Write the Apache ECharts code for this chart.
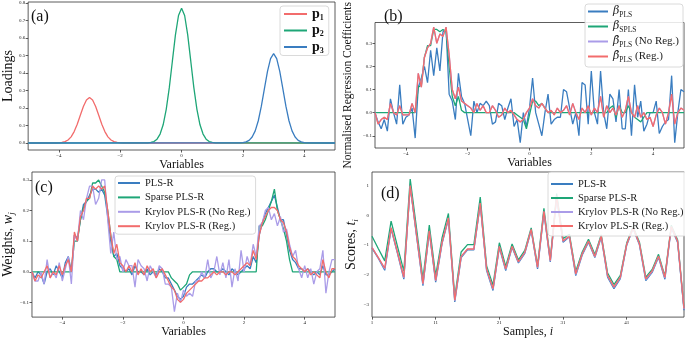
<!DOCTYPE html>
<html>
<head>
<meta charset="utf-8">
<script src="https://cdn.jsdelivr.net/npm/echarts@6/dist/echarts.min.js"></script>
<style>
  html, body { margin: 0; padding: 0; background: #fff; }
  #chart { width: 685px; height: 339px; }
</style>
</head>
<body>
<div id="chart"></div>
<script>
// ---- data ----
// (a) loadings
const p1X = [-5, -4.1, -4.0, -3.9, -3.8, -3.7, -3.6, -3.5, -3.4, -3.3, -3.2, -3.1, -3.0, -2.9, -2.8, -2.7, -2.6, -2.5, -2.4, -2.3, -2.2, -2.1, -2.0, -1.9, 5];
const p1Y = [0, 0, 0.001, 0.003, 0.008, 0.017, 0.035, 0.065, 0.107, 0.158, 0.208, 0.246, 0.26, 0.246, 0.208, 0.158, 0.107, 0.065, 0.035, 0.017, 0.008, 0.003, 0.001, 0, 0];
const p2X = [-5, -1.1, -1.0, -0.9, -0.8, -0.7, -0.6, -0.5, -0.4, -0.3, -0.2, -0.1, 0, 0.1, 0.2, 0.3, 0.4, 0.5, 0.6, 0.7, 0.8, 0.9, 1.0, 1.1, 5];
const p2Y = [0, 0.001, 0.003, 0.008, 0.022, 0.051, 0.104, 0.192, 0.316, 0.467, 0.617, 0.728, 0.77, 0.728, 0.617, 0.467, 0.316, 0.192, 0.104, 0.051, 0.022, 0.008, 0.003, 0.001, 0];
const p3X = [-5, 1.9, 2.0, 2.1, 2.2, 2.3, 2.4, 2.5, 2.6, 2.7, 2.8, 2.9, 3.0, 3.1, 3.2, 3.3, 3.4, 3.5, 3.6, 3.7, 3.8, 3.9, 4.0, 4.1, 5];
const p3Y = [0, 0.001, 0.002, 0.006, 0.015, 0.034, 0.069, 0.127, 0.21, 0.31, 0.409, 0.482, 0.51, 0.482, 0.409, 0.31, 0.21, 0.127, 0.069, 0.034, 0.015, 0.006, 0.002, 0.001, 0];

// variable positions for (b) and (c)
const variables = [
  -5.0, -4.9, -4.8, -4.7, -4.6, -4.5, -4.4, -4.3, -4.2, -4.1,
  -4.0, -3.9, -3.8, -3.7, -3.6, -3.5, -3.4, -3.3, -3.2, -3.1,
  -3.0, -2.9, -2.8, -2.7, -2.6, -2.5, -2.4, -2.3, -2.2, -2.1,
  -2.0, -1.9, -1.8, -1.7, -1.6, -1.5, -1.4, -1.3, -1.2, -1.1,
  -1.0, -0.9, -0.8, -0.7, -0.6, -0.5, -0.4, -0.3, -0.2, -0.1,
  0.0, 0.1, 0.2, 0.3, 0.4, 0.5, 0.6, 0.7, 0.8, 0.9,
  1.0, 1.1, 1.2, 1.3, 1.4, 1.5, 1.6, 1.7, 1.8, 1.9,
  2.0, 2.1, 2.2, 2.3, 2.4, 2.5, 2.6, 2.7, 2.8, 2.9,
  3.0, 3.1, 3.2, 3.3, 3.4, 3.5, 3.6, 3.7, 3.8, 3.9,
  4.0, 4.1, 4.2, 4.3, 4.4, 4.5, 4.6, 4.7, 4.8, 4.9, 5.0
];

// (b) normalised regression coefficients
const betaPLS = [
  0.0, -0.04, -0.07, -0.03, -0.08, 0.06, 0.0, -0.05, 0.12, -0.05,
  -0.02, -0.01, 0.02, -0.11, 0.11, 0.15, 0.2, 0.13, 0.27, 0.16,
  0.28, 0.18, 0.35, 0.36, 0.08, 0.05, -0.03, 0.17, 0.07, 0.04,
  -0.03, -0.1, 0.05, 0.0, 0.04, 0.03, 0.05, 0.03, -0.05, -0.04,
  0.04, 0.03, -0.03, 0.02, 0.06, -0.06, -0.03, -0.13, 0.0, -0.06,
  0.02, 0.15, 0.0, -0.05, -0.1, 0.0, 0.08, -0.05, -0.03, -0.02,
  -0.02, 0.1, 0.09, 0.02, -0.05, 0.0, -0.1, 0.13, 0.12, -0.05,
  0.18, 0.0, -0.05, 0.18, 0.0, -0.07, 0.08, 0.06, -0.04, 0.1,
  -0.07, -0.07, 0.1, -0.1, 0.12, -0.02, 0.05, -0.08, -0.05, 0.0,
  0.0, 0.05, -0.09, -0.06, -0.04, -0.03, 0.16, -0.13, 0.0, 0.1, 0.09
];
const betaSPLS = [
  0, 0, 0, 0, 0, 0, 0, 0, 0, 0,
  0, 0, 0, 0, 0.11, 0.12, 0.24, 0.29, 0.29, 0.36,
  0.36, 0.35, 0.36, 0.35, 0.2, 0.07, 0.03, 0.07, 0.01, 0,
  0, 0, 0, 0, 0, 0, 0, 0, 0, 0,
  0, 0, 0, 0, 0, 0, -0.01, -0.02, -0.03, -0.07,
  -0.01, 0.05, 0.05, 0.03, 0.04, 0.02, 0, 0, 0, 0,
  0, 0, 0, 0, 0, 0, 0, 0, 0, 0,
  0, 0, 0, 0, 0, 0, 0.02, 0.03, -0.02, 0.03,
  0, 0, 0.03, 0, -0.02, -0.03, -0.04, -0.02, 0, 0,
  0, 0, 0, 0, 0, 0, 0, 0, 0, 0, 0
];
const betaReg = [
  0.0, -0.05, -0.03, -0.02, -0.03, 0.04, 0.0, -0.01, 0.03, -0.01,
  -0.01, -0.01, 0.04, 0.0, 0.17, 0.11, 0.24, 0.28, 0.3, 0.37,
  0.3, 0.34, 0.33, 0.37, 0.25, 0.1, 0.06, 0.11, 0.05, 0.04,
  0.03, 0.02, 0.0, 0.04, 0.01, 0.03, 0.0, 0.0, 0.03, 0.01,
  -0.02, -0.01, 0.02, 0.0, 0.01, -0.01, -0.03, -0.04, -0.03, 0.0,
  0.02, 0.06, 0.03, 0.02, 0.04, 0.02, 0.0, 0.01, -0.01, 0.02,
  0.0, 0.01, 0.03, -0.01, 0.04, 0.0, -0.03, 0.02, 0.0, 0.03,
  -0.01, 0.02, 0.0, 0.07, -0.02, 0.03, 0.0, 0.02, -0.01, 0.03,
  -0.02, 0.01, 0.07, 0.0, -0.02, 0.03, -0.02, 0.0, -0.03, -0.02,
  -0.06, -0.01, 0.02, 0.0, -0.05, 0.0, 0.08, -0.05, 0.0, 0.02, 0.01
];
// no-reg Krylov estimate sits under the reg. one in the figure
const betaNoReg = betaReg;

// (c) weights
const wPLS = [
  0.0, -0.02, 0.0, -0.01, -0.04, 0.0, 0.01, -0.01, 0.02, 0.0,
  -0.02, 0.03, 0.05, 0.0, 0.12, 0.11, 0.17, 0.22, 0.23, 0.25,
  0.27, 0.27, 0.26, 0.27, 0.25, 0.18, 0.1, 0.05, 0.06, 0.02,
  0.01, 0.0, 0.01, -0.01, 0.02, 0.0, 0.0, -0.01, 0.01, -0.01,
  0.0, -0.01, 0.01, 0.0, -0.02, -0.02, -0.04, -0.06, -0.08, -0.09,
  -0.08, -0.05, -0.04, -0.04, -0.03, -0.02, -0.01, -0.02, 0.0, 0.01,
  0.01, 0.0, 0.0, 0.01, 0.0, -0.01, 0.01, 0.0, -0.01, 0.0,
  0.01, 0.02, 0.01, 0.05, 0.03, 0.12, 0.16, 0.19, 0.21, 0.23,
  0.25, 0.21, 0.17, 0.17, 0.12, 0.07, 0.04, 0.03, 0.01, 0.01,
  0.0, 0.01, 0.0, -0.01, 0.0, -0.01, 0.02, -0.01, -0.01, 0.0, 0.01
];
const wSparse = [
  0, 0, 0, 0, 0, 0, 0, 0, 0, 0,
  0, 0, 0, 0, 0.1, 0.1, 0.17, 0.21, 0.23, 0.24,
  0.29, 0.29, 0.3, 0.28, 0.26, 0.2, 0.12, 0.05, 0.04, 0,
  0, 0, 0, 0, 0, 0, 0, 0, 0, 0,
  0, 0, 0, 0, 0, 0, -0.02, -0.03, -0.04, -0.06,
  -0.05, -0.04, -0.01, 0, 0, 0, 0, 0, 0, 0,
  0, 0, 0, 0, 0, 0, 0, 0, 0, 0,
  0, 0, 0, 0, 0, 0.15, 0.15, 0.17, 0.2, 0.23,
  0.27, 0.2, 0.17, 0.14, 0.1, 0.04, 0, 0, 0, 0,
  0, 0, 0, 0, 0, 0, 0, 0, 0, 0, 0
];
const wKryNoReg = [
  0.0, -0.03, -0.03, 0.0, -0.04, 0.04, -0.02, 0.0, -0.02, 0.03,
  -0.03, 0.01, 0.05, -0.04, 0.12, 0.1, 0.2, 0.17, 0.24, 0.28,
  0.28, 0.22, 0.24, 0.3, 0.3, 0.17, 0.06, 0.13, 0.04, 0.05,
  0.0, 0.04, 0.02, 0.02, -0.05, 0.04, 0.02, 0.01, -0.03, 0.02,
  0.0, -0.02, 0.02, 0.01, -0.04, -0.04, -0.05, -0.13, -0.07, -0.1,
  -0.06, -0.08, -0.07, -0.08, -0.03, -0.03, 0.0, -0.02, 0.04, -0.02,
  0.0, 0.05, -0.01, 0.03, -0.02, 0.04, -0.05, 0.01, -0.03, 0.07,
  0.0, 0.05, 0.02, 0.09, 0.05, 0.15, 0.16, 0.2, 0.21, 0.17,
  0.19, 0.15, 0.18, 0.13, 0.14, 0.09, 0.05, 0.07, 0.01, -0.02,
  0.02, -0.02, 0.01, -0.04, 0.0, 0.01, 0.07, -0.07, 0.0, 0.04, 0.04
];
const wKryReg = [
  0.0, -0.03, -0.01, -0.02, 0.0, 0.02, -0.02, 0.0, -0.01, 0.02,
  -0.01, 0.02, 0.04, 0.0, 0.13, 0.1, 0.18, 0.2, 0.24, 0.24,
  0.28, 0.27, 0.28, 0.27, 0.28, 0.2, 0.12, 0.06, 0.09, 0.03,
  0.02, 0.0, 0.02, 0.0, 0.03, -0.01, 0.01, -0.01, 0.02, 0.0,
  0.01, -0.02, 0.0, 0.01, -0.01, -0.03, -0.05, -0.06, -0.09, -0.1,
  -0.09, -0.07, -0.06, -0.05, -0.04, -0.03, -0.03, -0.02, -0.02, -0.01,
  0.0, -0.01, 0.0, 0.0, -0.01, 0.0, 0.0, -0.01, 0.0, 0.01,
  0.02, 0.03, 0.02, 0.07, 0.04, 0.12, 0.16, 0.18, 0.2, 0.21,
  0.21, 0.2, 0.17, 0.16, 0.13, 0.08, 0.05, 0.04, 0.02, 0.01,
  0.0, 0.01, -0.01, 0.0, -0.01, -0.02, 0.04, 0.0, -0.02, 0.01, 0.01
];

// (d) scores
const samples = [
  1, 2, 3, 4, 5, 6, 7, 8, 9, 10, 11, 12, 13, 14, 15, 16, 17, 18, 19, 20,
  21, 22, 23, 24, 25, 26, 27, 28, 29, 30, 31, 32, 33, 34, 35, 36, 37, 38, 39, 40,
  41, 42, 43, 44, 45, 46, 47, 48, 49, 50
];
const tPLS = [
  -1.1, -1.45, -1.85, -0.45, -1.28, -2.15, 0.98, -0.7, -2.37, -0.56,
  -2.25, -0.95, -0.12, -2.92, -1.42, -1.16, -1.16, 0.38, -1.86, -2.53,
  -1.08, -1.86, -1.07, -1.6, -1.28, -0.5, -1.8, 0.1, -1.57, 0.62,
  -0.9, -0.72, -2.03, -1.34, -0.9, -1.42, -0.73, -2.08, -2.47, -2.13,
  -1.0, -0.44, -0.99, -2.2, -1.92, -1.41, -2.15, -0.4, -0.91, -3.2
];
const tSparse = [
  -0.7, -1.12, -1.53, -0.19, -1.04, -1.88, 1.23, -0.45, -2.15, -0.32,
  -2.04, -0.76, 0.07, -2.76, -1.23, -0.98, -0.98, 0.62, -1.7, -2.35,
  -0.92, -1.72, -0.96, -1.5, -1.18, -0.42, -1.69, 0.24, -1.47, 0.74,
  -0.78, -0.63, -1.89, -1.24, -0.8, -1.32, -0.65, -1.94, -2.33, -2.02,
  -0.93, -0.37, -0.9, -2.08, -1.82, -1.31, -2.05, -0.33, -0.83, -3.12
];
const tKryNoReg = [
  -1.07, -1.43, -1.8, -0.42, -1.25, -2.1, 1.0, -0.66, -2.32, -0.53,
  -2.21, -0.92, -0.09, -2.88, -1.39, -1.14, -1.14, 0.41, -1.82, -2.49,
  -1.05, -1.82, -1.05, -1.57, -1.25, -0.48, -1.76, 0.13, -1.54, 0.64,
  -0.87, -0.7, -1.99, -1.31, -0.87, -1.39, -0.7, -2.04, -2.43, -2.1,
  -0.98, -0.42, -0.96, -2.16, -1.89, -1.38, -2.11, -0.38, -0.88, -3.16
];
const tKryReg = [
  -1.08, -1.42, -1.78, -0.41, -1.24, -2.08, 1.01, -0.65, -2.3, -0.52,
  -2.19, -0.91, -0.08, -2.86, -1.38, -1.13, -1.13, 0.42, -1.8, -2.47,
  -1.04, -1.8, -1.04, -1.56, -1.24, -0.47, -1.74, 0.14, -1.52, 0.65,
  -0.86, -0.69, -1.97, -1.3, -0.86, -1.38, -0.69, -2.02, -2.41, -2.08,
  -0.97, -0.41, -0.95, -2.14, -1.87, -1.37, -2.09, -0.37, -0.87, -3.14
];

// tick labels
const varTicks = [-4, -2, 0, 2, 4];
const loadTicks = [0, 0.1, 0.2, 0.3, 0.4, 0.5, 0.6, 0.7, 0.8];
const coefTicks = [-0.1, 0, 0.1, 0.2, 0.3];
const weightTicks = [-0.1, 0, 0.1, 0.2, 0.3];
const scoreTicks = [-3, -2, -1, 0, 1];

// ---- styling ----
const FONT = "'Liberation Serif', 'DejaVu Serif', serif";
const MATH = "'DejaVu Serif', serif";
const BLUE = "#3a7dc0";
const GREEN = "#1ea677";
const PURPLE = "#aa9ce8";
const RED = "#f26c6c";

const num1 = (v) => (Math.abs(v) < 1e-9 ? "0.0" : v.toFixed(1).replace("-", "\u2212"));
const int0 = (v) => String(v).replace("-", "\u2212");

function pairs(xs, ys) {
  return xs.map((x, i) => [x, ys[i]]);
}

function line(name, idx, data, color) {
  return {
    name,
    type: "line",
    xAxisIndex: idx,
    yAxisIndex: idx,
    data,
    symbol: "none",
    showSymbol: false,
    lineStyle: { width: 1.3, color },
    itemStyle: { color },
    clip: true,
  };
}

const nameRich = {
  it: { fontFamily: FONT, fontSize: 14, fontStyle: "italic", color: "#111" },
  sub: { fontFamily: FONT, fontSize: 9, fontStyle: "italic", color: "#111", verticalAlign: "bottom", lineHeight: 16 },
};

const hiddenLine = { show: false, onZero: false };

function xAxisV(gridIndex, name, nameGap) {
  return {
    type: "value",
    gridIndex,
    min: -5,
    max: 5,
    name,
    nameLocation: "middle",
    nameGap,
    nameTextStyle: { fontFamily: FONT, fontSize: 12, color: "#111" },
    axisLine: hiddenLine,
    splitLine: { show: false },
    axisTick: { length: 2.5, lineStyle: { color: "#333", width: 0.8 }, customValues: varTicks },
    axisLabel: { customValues: varTicks, formatter: int0, fontSize: 5, color: "#222", fontFamily: FONT, margin: 3 },
  };
}

function yAxisV(gridIndex, min, max, ticks, fmt, name, nameGap, nameSize) {
  return {
    type: "value",
    gridIndex,
    min,
    max,
    name,
    nameLocation: "middle",
    nameGap,
    nameTextStyle: { fontFamily: FONT, fontSize: nameSize, color: "#111", rich: nameRich },
    axisLine: hiddenLine,
    splitLine: { show: false },
    axisTick: { length: 2.5, lineStyle: { color: "#333", width: 0.8 }, customValues: ticks },
    axisLabel: { customValues: ticks, formatter: fmt, fontSize: 5, color: "#222", fontFamily: FONT, margin: 3 },
  };
}

const legendBase = {
  orient: "vertical",
  backgroundColor: "rgba(255,255,255,0.85)",
  borderColor: "#d0d0d0",
  borderWidth: 0.8,
  borderRadius: 3,
  icon: "rect",
  itemHeight: 2,
  selectedMode: false,
};

const chart = echarts.init(document.getElementById("chart"), null, { renderer: "canvas" });

const option = {
  animation: false,
  backgroundColor: "#fff",
  title: [
    { text: "(a)", left: 31, top: 9 },
    { text: "(b)", left: 384, top: 9 },
    { text: "(c)", left: 35, top: 180 },
    { text: "(d)", left: 381, top: 186 },
  ].map((t) => Object.assign(t, { padding: 0, textStyle: { fontFamily: FONT, fontSize: 16, fontWeight: "normal", color: "#111" } })),
  grid: [
    { left: 22, top: 2, width: 313, height: 148 },
    { left: 375, top: 2, width: 309, height: 146 },
    { left: 27, top: 172, width: 308, height: 147 },
    { left: 372, top: 172, width: 312, height: 147 },
  ].map((g) => Object.assign(g, { show: true, borderColor: "#333", borderWidth: 0.8, backgroundColor: "transparent" })),
  xAxis: [
    xAxisV(0, "Variables", 5),
    xAxisV(1, "Variables", 7),
    xAxisV(2, "Variables", 6),
    {
      type: "category",
      gridIndex: 3,
      data: samples,
      boundaryGap: false,
      name: "Samples, {it|i}",
      nameLocation: "middle",
      nameGap: 7,
      nameTextStyle: { fontFamily: FONT, fontSize: 12, color: "#111", rich: { it: { fontFamily: FONT, fontSize: 12, fontStyle: "italic", color: "#111" } } },
      axisLine: hiddenLine,
      splitLine: { show: false },
      axisTick: { interval: 9, length: 2.5, lineStyle: { color: "#333", width: 0.8 } },
      axisLabel: { interval: 9, fontSize: 5, color: "#222", fontFamily: FONT, margin: 3 },
    },
  ],
  yAxis: [
    yAxisV(0, -0.04, 0.805, loadTicks, num1, "Loadings", 9, 14),
    yAxisV(1, -0.153, 0.39, coefTicks, num1, "Normalised Regression Coefficients", 21, 11.5),
    yAxisV(2, -0.148, 0.326, weightTicks, num1, "Weights, {it|w}{sub|j}", 11, 14),
    yAxisV(3, -3.43, 1.47, scoreTicks, int0, "Scores, {it|t}{sub|i}", 11, 14),
  ],
  legend: [
    Object.assign({}, legendBase, {
      data: ["p1", "p2", "p3"],
      left: 280,
      top: 6,
      padding: [1, 5, 1, 4],
      itemWidth: 23,
      itemGap: 2,
      formatter: (n) => "{b|p}{s|" + n.slice(1) + "}",
      textStyle: {
        fontFamily: FONT,
        color: "#111",
        rich: {
          b: { fontFamily: FONT, fontSize: 14, fontWeight: "bold", color: "#111", lineHeight: 15 },
          s: { fontFamily: FONT, fontSize: 8, fontWeight: "bold", color: "#111", verticalAlign: "bottom", lineHeight: 15 },
        },
      },
    }),
    Object.assign({}, legendBase, {
      data: ["bPLS", "bSPLS", "bNoReg", "bReg"],
      left: 585,
      top: 4,
      padding: [2, 4, 3, 3],
      itemWidth: 20,
      itemGap: 2,
      formatter: (n) =>
        ({
          bPLS: "{g|\u03b2}{s|PLS}",
          bSPLS: "{g|\u03b2}{s|SPLS}",
          bNoReg: "{g|\u03b2\u0302}{s|PLS}{t| (No Reg.)}",
          bReg: "{g|\u03b2\u0302}{s|PLS}{t| (Reg.)}",
        })[n],
      textStyle: {
        fontFamily: FONT,
        color: "#222",
        rich: {
          g: { fontFamily: MATH, fontSize: 11, fontStyle: "italic", color: "#222", lineHeight: 15 },
          s: { fontFamily: FONT, fontSize: 7.5, color: "#222", verticalAlign: "bottom", lineHeight: 15 },
          t: { fontFamily: FONT, fontSize: 11, color: "#222", lineHeight: 15 },
        },
      },
    }),
    Object.assign({}, legendBase, {
      data: ["PLS-R", "Sparse PLS-R", "Krylov PLS-R (No Reg.)", "Krylov PLS-R (Reg.)"],
      left: 115,
      top: 176,
      padding: [1, 5, 2, 3],
      itemWidth: 22,
      itemGap: 2.4,
      textStyle: { fontFamily: FONT, fontSize: 10.5, color: "#222", lineHeight: 12 },
    }),
    Object.assign({}, legendBase, {
      data: ["PLS-R", "Sparse PLS-R", "Krylov PLS-R (No Reg.)", "Krylov PLS-R (Reg.)"],
      left: 548,
      top: 172,
      padding: [6, 4, 4, 3],
      itemWidth: 22,
      itemGap: 2,
      textStyle: { fontFamily: FONT, fontSize: 10.5, color: "#222", lineHeight: 12 },
    }),
  ],
  series: [
    line("p1", 0, pairs(p1X, p1Y), RED),
    line("p2", 0, pairs(p2X, p2Y), GREEN),
    line("p3", 0, pairs(p3X, p3Y), BLUE),

    line("bPLS", 1, pairs(variables, betaPLS), BLUE),
    line("bSPLS", 1, pairs(variables, betaSPLS), GREEN),
    line("bNoReg", 1, pairs(variables, betaNoReg), PURPLE),
    line("bReg", 1, pairs(variables, betaReg), RED),

    line("PLS-R", 2, pairs(variables, wPLS), BLUE),
    line("Sparse PLS-R", 2, pairs(variables, wSparse), GREEN),
    line("Krylov PLS-R (No Reg.)", 2, pairs(variables, wKryNoReg), PURPLE),
    line("Krylov PLS-R (Reg.)", 2, pairs(variables, wKryReg), RED),

    line("PLS-R", 3, tPLS, BLUE),
    line("Sparse PLS-R", 3, tSparse, GREEN),
    line("Krylov PLS-R (No Reg.)", 3, tKryNoReg, PURPLE),
    line("Krylov PLS-R (Reg.)", 3, tKryReg, RED),
  ],
};

chart.setOption(option);
</script>
</body>
</html>
